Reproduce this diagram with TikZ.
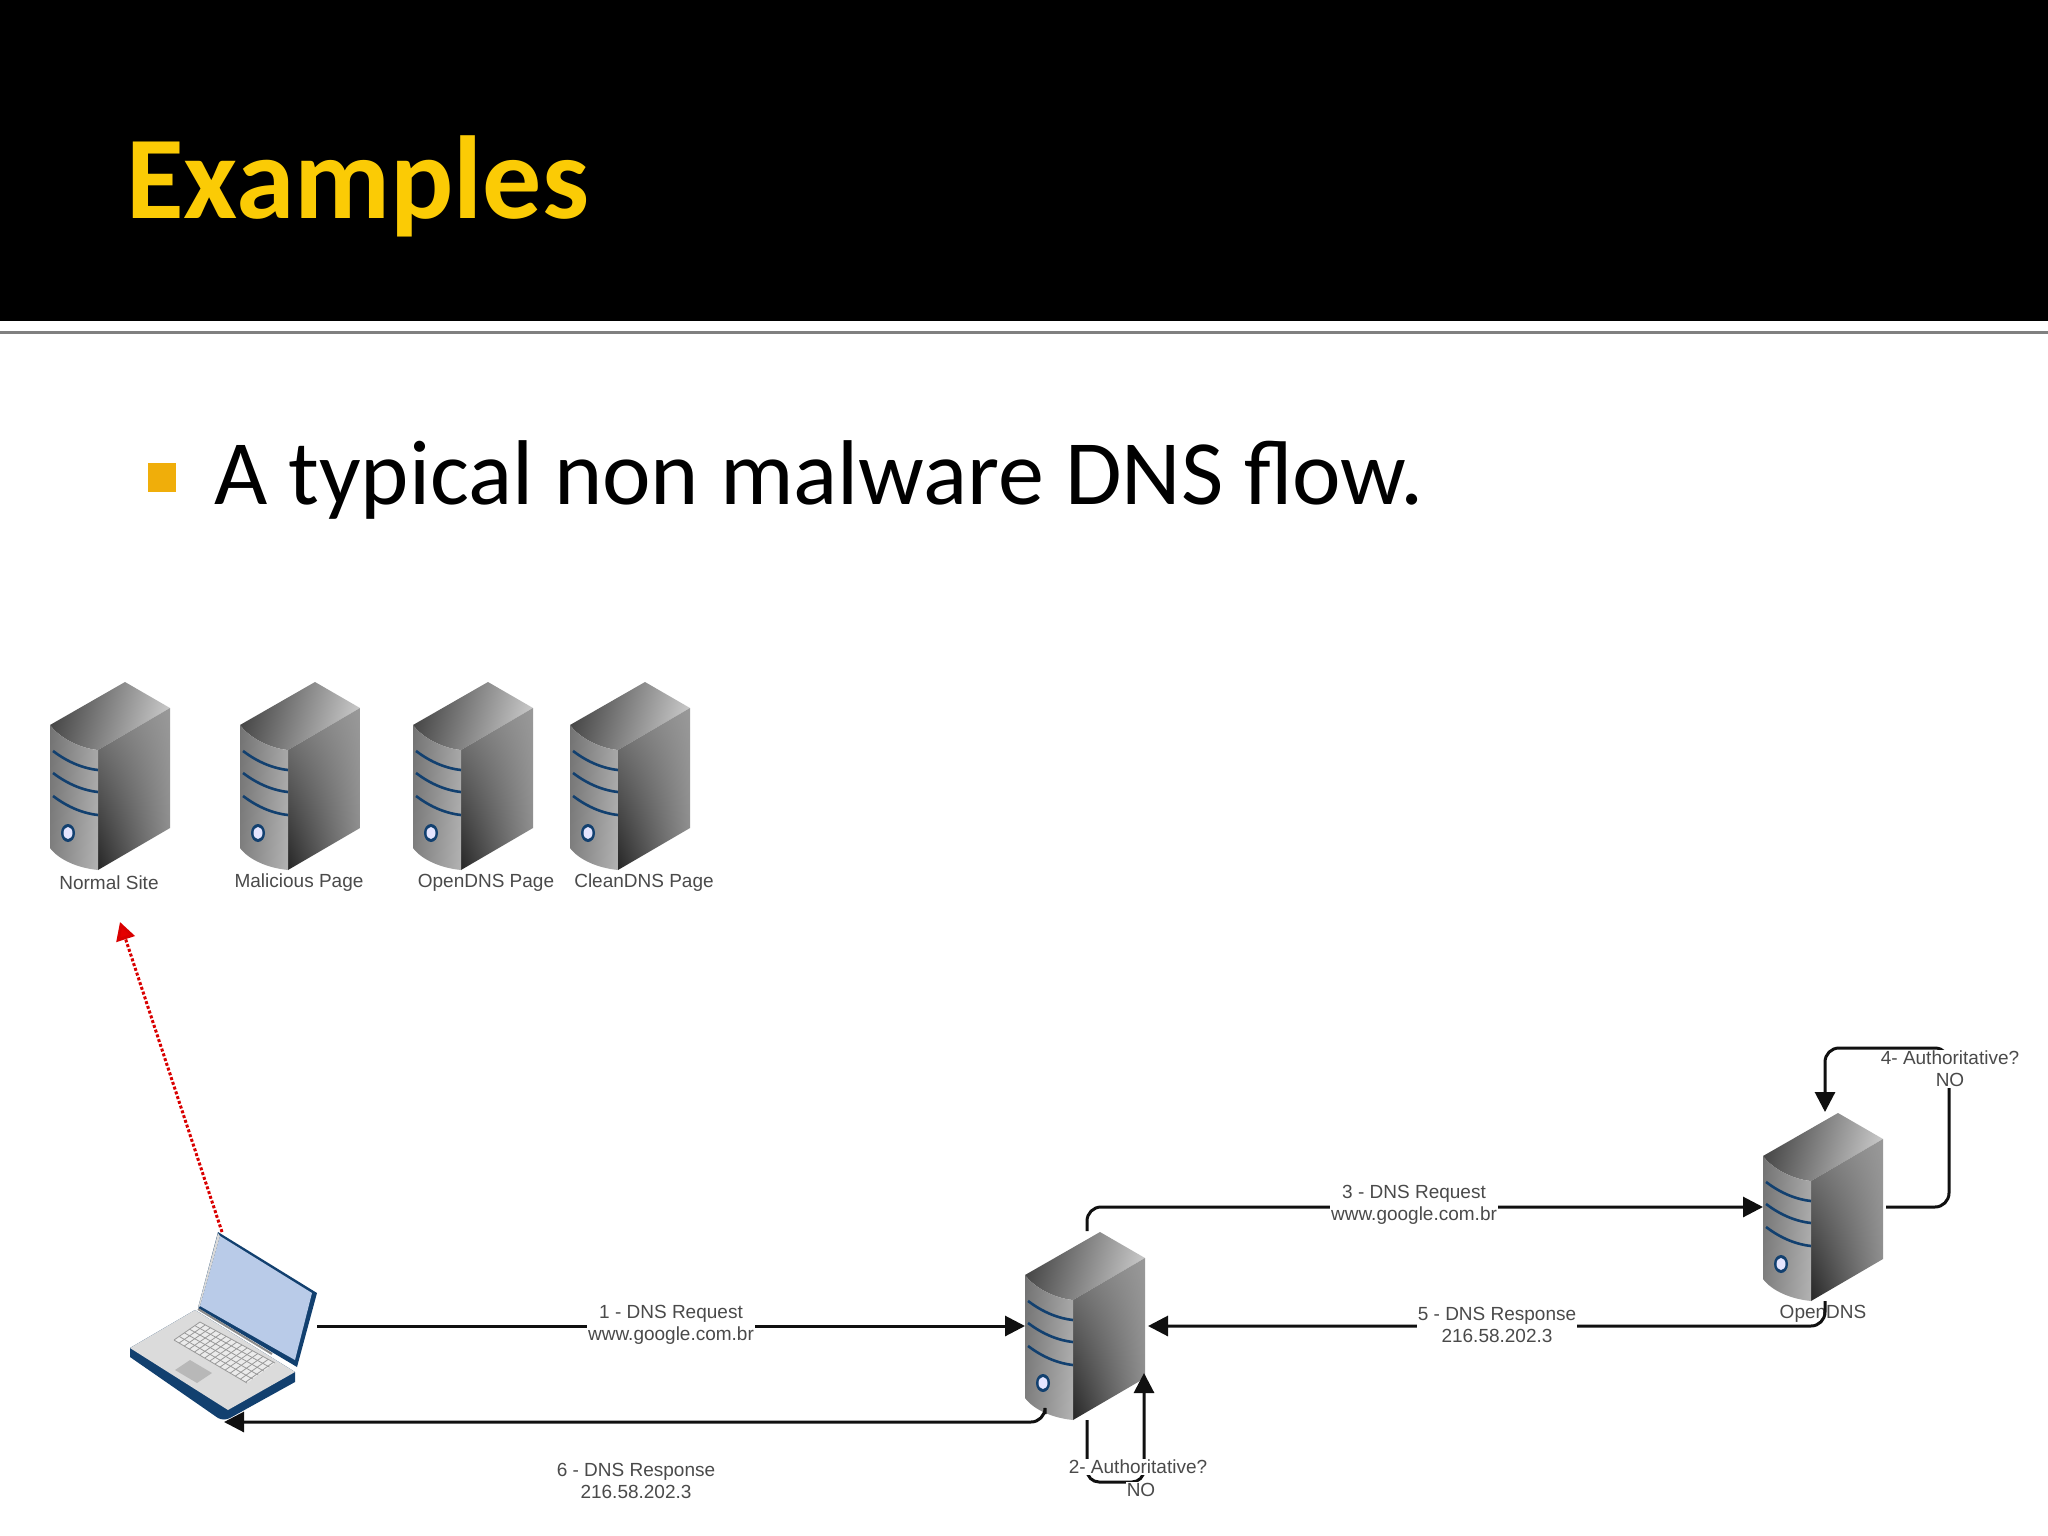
\documentclass[tikz,border=0pt]{standalone}
\usepackage{fontspec}
\setmainfont{Liberation Sans}
\newfontfamily\slidefont{Carlito}
\usetikzlibrary{arrows.meta,calc,shadings}

\definecolor{gold}{HTML}{F0AE0A}
\definecolor{titlegold}{HTML}{FBCB05}
\definecolor{stripe}{HTML}{12406F}
\definecolor{labelgray}{HTML}{4A4A4A}
\definecolor{wire}{HTML}{101010}
\definecolor{lcd}{HTML}{B9CBE8}

\tikzset{
  lbl/.style={fill=white, text=labelgray, align=center, inner sep=1pt,
    font=\fontsize{19}{22}\selectfont},
  flow/.style={draw=wire, line width=3pt, rounded corners=14pt,
    -{Triangle[length=20pt,width=20pt]}},
  redflow/.style={draw=red!85!black, line width=3pt, dotted,
    -{Triangle[length=18pt,width=19pt,fill=red!90!black]}},
  server/.pic={
    \shade[left color=black!72, right color=black!22, shading angle=75]
      (0,0) -- (45,26) -- (-27,68) .. controls (-47,66) and (-66,55) .. (-75,43) -- cycle;
    \shade[lower left=black!85, upper left=black!50, upper right=black!40, lower right=black!45]
      (45,26) -- (45,146) -- (-27,188) -- (-27,68) -- cycle;
    \shade[upper left=black!55, upper right=black!35, lower left=black!50, lower right=black!30]
      (-75,43) .. controls (-66,55) and (-47,66) .. (-27,68) -- (-27,188)
      .. controls (-47,186) and (-66,178) .. (-75,166) -- cycle;
    \foreach \h in {69,91,114}
      \draw[stripe, line width=2.6pt] (-72,\h) .. controls (-60,\h+9) and (-45,\h+17) .. (-27,\h+19);
    \fill[stripe] (-57,151) ellipse (7 and 9);
    \fill[blue!10!white] (-57,151) ellipse (4.5 and 6);
    \coordinate (-west) at (-75,94);
    \coordinate (-east) at (48,94);
    \coordinate (-roof) at (-13,-1);
    \coordinate (-base) at (-13,188);
    \coordinate (-foot) at (-55,182);
    \coordinate (-side) at (44,141);
  },
  laptop/.pic={
    % base
    \fill[stripe] (-88,116) -- (-23,78) -- (77,140) -- (77,150) -- (12,186)
      .. controls (8,188) and (4,188) .. (0,186) -- (-88,125) -- cycle;
    \fill[black!14] (-88,116) -- (-23,78) -- (77,140) -- (10,178) -- cycle;
    % screen
    \fill[stripe] (0,0) -- (99,61) -- (79,135) -- (-20,76) -- cycle;
    \fill[lcd] (2,4) -- (94,61) -- (77,128) -- (-18,74) -- cycle;
    \fill[white!85!black] (0,1) -- (2,4) -- (-18,74) -- (-20,76) -- cycle;
    % keyboard
    \coordinate (ka) at (-18,90);
    \coordinate (kb) at (57,131);
    \coordinate (kc) at (29,151);
    \coordinate (kd) at (-44,108);
    \fill[black!8] (ka) -- (kb) -- (kc) -- (kd) -- cycle;
    \foreach \t in {0,0.2,...,1.01}
      \draw[black!40, line width=0.8pt] ($(ka)!\t!(kd)$) -- ($(kb)!\t!(kc)$);
    \foreach \t in {0,0.07,...,1.01}
      \draw[black!40, line width=0.8pt] ($(ka)!\t!(kb)$) -- ($(kd)!\t!(kc)$);
    \draw[black!45, line width=2pt] (-20,77) -- (54,122);
    % trackpad
    \fill[black!28] (-28,128) -- (-6,141) -- (-21,151) -- (-43,138) -- cycle;
    \coordinate (-east) at (99,94);
    \coordinate (-lid) at (4,0);
    \coordinate (-foot) at (6,190);
  }
}

\begin{document}
\begin{tikzpicture}[x=1pt,y=-1pt]

  \useasboundingbox (0,0) rectangle (2048,1536);
  \fill[white] (0,0) rectangle (2048,1536);

  % Slide header
  \fill[black] (0,0) rectangle (2048,321);
  \fill[black!50] (0,331) rectangle (2048,334);
  \node[anchor=base west, inner sep=0pt, text=titlegold,
    font=\slidefont\bfseries\fontsize{118}{120}\selectfont] (title) at (126,218) {Examples};
  \fill[gold] (148,463) rectangle (176,492);
  \node[anchor=base west, inner sep=0pt, text=black,
    font=\slidefont\fontsize{92}{96}\selectfont] (intro) at (214,504) {A typical non malware DNS flow.};

  % Define nodes
  \pic (normal) at (125,682) {server};
  \pic (evil) at (315,682) {server};
  \pic (opage) at (488,682) {server};
  \pic (cpage) at (645,682) {server};
  \pic (core) at (1100,1232) {server};
  \pic (open) at (1838,1113) {server};
  \pic (host) at (218,1232) {laptop};

  \node[lbl, fill=none] (normaltxt) at (109,883) {Normal Site};
  \node[lbl, fill=none] (eviltxt) at (299,883) {Malicious Page};
  \node[lbl, fill=none] (opagetxt) at (486,883) {OpenDNS Page};
  \node[lbl, fill=none] (cpagetxt) at (644,883) {CleanDNS Page};
  \node[lbl, fill=none] (opentxt) at (1823,1314) {OpenDNS};

  \coordinate (sitegap) at (120,922);
  \coordinate (loopa) at (1949,1048);
  \coordinate (loopb) at (1087,1482);

  % Connect the nodes
  \draw[redflow] (host-lid) -- (sitegap);
  \draw[flow] (host-east) -- (core-west);
  \draw[flow, rounded corners=12pt] (core-base) |- (loopb) -| (core-side);
  \draw[flow] (core-roof) |- (open-west);
  \draw[flow] (open-east) -| (loopa) -| (open-roof);
  \draw[flow] (open-base) |- (core-east);
  \draw[flow] (core-foot) |- (host-foot);

  % Labels on the connectors
  \node[lbl] (ask1) at (671,1325) {1 - DNS Request\\www.google.com.br};
  \node[lbl] (ask2a) at (1138,1467) {2- Authoritative?};
  \node[lbl] (ask2b) at (1141,1490) {NO};
  \node[lbl] (ask3) at (1414,1205) {3 - DNS Request\\www.google.com.br};
  \node[lbl] (ask4) at (1950,1069) {4- Authoritative?\\NO};
  \node[lbl] (ans5) at (1497,1325) {5 - DNS Response\\216.58.202.3};
  \node[lbl] (ans6) at (636,1481) {6 - DNS Response\\216.58.202.3};

\end{tikzpicture}
\end{document}
